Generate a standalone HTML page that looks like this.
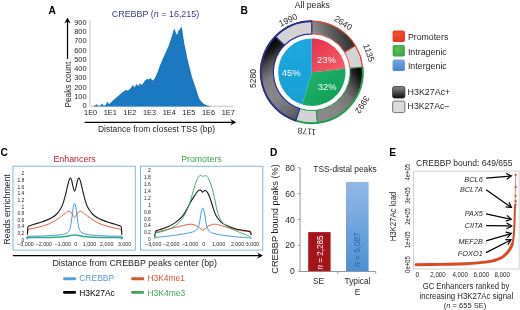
<!DOCTYPE html>
<html><head><meta charset="utf-8"><title>Figure</title>
<style>
html,body{margin:0;padding:0;background:#fff;}
body{width:520px;height:310px;overflow:hidden;}
svg{display:block;font-family:"Liberation Sans", Arial, Helvetica, sans-serif;}
</style></head><body>
<svg width="520" height="310" viewBox="0 0 520 310">
<defs>
<linearGradient id="gDark1" gradientUnits="userSpaceOnUse" x1="310" y1="34" x2="348" y2="22"><stop offset="0" stop-color="#9a9a9a"/><stop offset="0.35" stop-color="#727272"/><stop offset="0.7" stop-color="#4a4a4a"/><stop offset="1" stop-color="#2a2a2a"/></linearGradient>
<linearGradient id="gDark2" gradientUnits="userSpaceOnUse" x1="364" y1="66" x2="307.9" y2="101"><stop offset="0" stop-color="#000"/><stop offset="0.15" stop-color="#141414"/><stop offset="0.3" stop-color="#4c4c4c"/><stop offset="0.45" stop-color="#747474"/><stop offset="0.7" stop-color="#868686"/><stop offset="1" stop-color="#8a8a8a"/></linearGradient>
<linearGradient id="gDark3" gradientUnits="userSpaceOnUse" x1="275" y1="36.3" x2="321.8" y2="98.7"><stop offset="0" stop-color="#000"/><stop offset="0.11" stop-color="#141414"/><stop offset="0.24" stop-color="#505050"/><stop offset="0.4" stop-color="#808084"/><stop offset="0.62" stop-color="#88888c"/><stop offset="0.85" stop-color="#6e6e76"/><stop offset="1" stop-color="#54545e"/></linearGradient>
<linearGradient id="gRed" x1="0" y1="0" x2="1" y2="1"><stop offset="0" stop-color="#e92d4a"/><stop offset="1" stop-color="#f3646a"/></linearGradient>
<linearGradient id="gGreen" x1="0" y1="0" x2="1" y2="1"><stop offset="0" stop-color="#22b573"/><stop offset="1" stop-color="#0c9a4c"/></linearGradient>
<linearGradient id="gBlue" x1="0" y1="0" x2="0" y2="1"><stop offset="0" stop-color="#1ca9dc"/><stop offset="1" stop-color="#17a0d6"/></linearGradient>
<linearGradient id="gBar" x1="0" y1="0" x2="0" y2="1"><stop offset="0" stop-color="#92b9e6"/><stop offset="1" stop-color="#4d8fd3"/></linearGradient>
<linearGradient id="gSwD" x1="0" y1="0" x2="0" y2="1"><stop offset="0" stop-color="#8c8c8c"/><stop offset="1" stop-color="#0c0c0c"/></linearGradient>
<radialGradient id="gSwR" cx="0.4" cy="0.35" r="0.8"><stop offset="0" stop-color="#f4512c"/><stop offset="1" stop-color="#e22f26"/></radialGradient>
<radialGradient id="gSwG" cx="0.45" cy="0.4" r="0.8"><stop offset="0" stop-color="#5cc04f"/><stop offset="1" stop-color="#2f9e3f"/></radialGradient>
<linearGradient id="gSwB" x1="0" y1="0" x2="0" y2="1"><stop offset="0" stop-color="#6ea6e2"/><stop offset="1" stop-color="#4686cf"/></linearGradient>
</defs>
<rect width="520" height="310" fill="#fff"/>

<g id="panelA">
<text x="48.4" y="13.8" font-size="10.2" fill="#000" text-anchor="start" font-weight="bold" font-style="normal">A</text>
<text x="155.5" y="16.5" font-size="9.0" fill="#3d3a8c" text-anchor="middle" font-weight="normal" font-style="normal" textLength="87.5" lengthAdjust="spacingAndGlyphs">CREBBP (<tspan font-style="italic">n</tspan> = 16,215)</text>
<path d="M89.9,20 L89.9,106.2 L233,106.2" fill="none" stroke="#a9abae" stroke-width="0.7"/>
<text x="86.6" y="108.25" font-size="7.4" fill="#231f20" text-anchor="end" font-weight="normal" font-style="normal">0</text>
<text x="86.6" y="98.96000000000001" font-size="7.4" fill="#231f20" text-anchor="end" font-weight="normal" font-style="normal">100</text>
<text x="86.6" y="89.67" font-size="7.4" fill="#231f20" text-anchor="end" font-weight="normal" font-style="normal">200</text>
<text x="86.6" y="80.38" font-size="7.4" fill="#231f20" text-anchor="end" font-weight="normal" font-style="normal">300</text>
<text x="86.6" y="71.09" font-size="7.4" fill="#231f20" text-anchor="end" font-weight="normal" font-style="normal">400</text>
<text x="86.6" y="61.8" font-size="7.4" fill="#231f20" text-anchor="end" font-weight="normal" font-style="normal">500</text>
<text x="86.6" y="52.51" font-size="7.4" fill="#231f20" text-anchor="end" font-weight="normal" font-style="normal">600</text>
<text x="86.6" y="43.21999999999999" font-size="7.4" fill="#231f20" text-anchor="end" font-weight="normal" font-style="normal">700</text>
<text x="86.6" y="33.93" font-size="7.4" fill="#231f20" text-anchor="end" font-weight="normal" font-style="normal">800</text>
<text x="86.6" y="24.640000000000008" font-size="7.4" fill="#231f20" text-anchor="end" font-weight="normal" font-style="normal">900</text>
<text x="90.6" y="115.0" font-size="7.4" fill="#231f20" text-anchor="middle" font-weight="normal" font-style="normal">1E0</text>
<text x="110.25999999999999" y="115.0" font-size="7.4" fill="#231f20" text-anchor="middle" font-weight="normal" font-style="normal">1E1</text>
<text x="129.92" y="115.0" font-size="7.4" fill="#231f20" text-anchor="middle" font-weight="normal" font-style="normal">1E2</text>
<text x="149.57999999999998" y="115.0" font-size="7.4" fill="#231f20" text-anchor="middle" font-weight="normal" font-style="normal">1E3</text>
<text x="169.24" y="115.0" font-size="7.4" fill="#231f20" text-anchor="middle" font-weight="normal" font-style="normal">1E4</text>
<text x="188.89999999999998" y="115.0" font-size="7.4" fill="#231f20" text-anchor="middle" font-weight="normal" font-style="normal">1E5</text>
<text x="208.56" y="115.0" font-size="7.4" fill="#231f20" text-anchor="middle" font-weight="normal" font-style="normal">1E6</text>
<text x="228.22" y="115.0" font-size="7.4" fill="#231f20" text-anchor="middle" font-weight="normal" font-style="normal">1E7</text>
<path d="M94.00,106.00 L96.60,104.30 L98.60,106.00 L100.00,105.80 L102.00,103.50 L104.00,106.00 L105.60,105.00 L107.40,101.80 L109.00,104.00 L110.40,103.00 L113.00,100.40 L117.00,97.00 L121.00,93.60 L124.00,91.00 L126.00,90.00 L128.00,90.40 L130.00,89.00 L133.00,85.00 L134.40,87.40 L136.60,84.00 L138.20,86.00 L140.00,83.20 L141.60,85.00 L143.40,83.00 L145.00,80.60 L147.00,79.00 L148.60,79.60 L150.40,78.00 L152.00,80.00 L153.00,80.60 L155.00,78.00 L157.20,73.10 L159.80,66.00 L162.90,58.50 L166.00,51.80 L168.70,45.70 L171.30,38.00 L173.40,30.80 L174.60,28.80 L175.80,32.80 L177.00,35.00 L178.30,31.00 L180.10,28.80 L181.70,26.80 L182.60,31.90 L184.10,42.60 L185.70,50.30 L187.20,57.90 L188.70,64.00 L190.30,70.20 L191.80,76.30 L193.30,80.90 L194.90,85.50 L196.40,90.10 L197.90,94.70 L199.50,99.30 L201.60,101.80 L204.00,103.90 L207.10,105.40 L210.50,106.20 L210.5,106.4 L94,106.4 Z" fill="#1a79c1"/>
<line x1="84.6" y1="122.3" x2="233" y2="122.3" stroke="#000" stroke-width="1.2"/>
<path d="M236.20,122.30 L230.20,119.10 L232.40,122.30 L230.20,125.50 Z" fill="#000"/>
<text x="156.5" y="131.7" font-size="8.5" fill="#231f20" text-anchor="middle" font-weight="normal" font-style="normal" textLength="117" lengthAdjust="spacingAndGlyphs">Distance from closest TSS (bp)</text>
<line x1="67.5" y1="21" x2="67.5" y2="59" stroke="#000" stroke-width="1.2"/>
<path d="M67.50,17.60 L64.30,23.60 L67.50,21.40 L70.70,23.60 Z" fill="#000"/>
<text x="70.7" y="107.6" font-size="8.9" fill="#231f20" text-anchor="start" font-weight="normal" font-style="normal" transform="rotate(-90 70.7 107.6)" textLength="45.8" lengthAdjust="spacingAndGlyphs">Peaks count</text>
</g>
<g id="panelB">
<text x="240.6" y="13.9" font-size="10.2" fill="#000" text-anchor="start" font-weight="bold" font-style="normal">B</text>
<text x="312.3" y="8.3" font-size="8.7" fill="#231f20" text-anchor="middle" font-weight="normal" font-style="normal" textLength="35.2" lengthAdjust="spacingAndGlyphs">All peaks</text>
<path d="M311.80,21.00 A51.2,51.2 0 0 1 355.59,45.68 L344.65,52.31 A38.4,38.4 0 0 0 311.80,33.80 Z" fill="url(#gDark1)"/>
<path d="M355.59,45.68 A51.2,51.2 0 0 1 362.74,67.03 L350.00,68.32 A38.4,38.4 0 0 0 344.65,52.31 Z" fill="#d3d3d6"/>
<path d="M362.74,67.03 A51.2,51.2 0 0 1 317.60,123.07 L316.15,110.35 A38.4,38.4 0 0 0 350.00,68.32 Z" fill="url(#gDark2)"/>
<path d="M317.60,123.07 A51.2,51.2 0 0 1 295.72,120.81 L299.74,108.66 A38.4,38.4 0 0 0 316.15,110.35 Z" fill="#d3d3d6"/>
<path d="M295.72,120.81 A51.2,51.2 0 0 1 275.16,36.44 L284.32,45.38 A38.4,38.4 0 0 0 299.74,108.66 Z" fill="url(#gDark3)"/>
<path d="M275.16,36.44 A51.2,51.2 0 0 1 311.80,21.00 L311.80,33.80 A38.4,38.4 0 0 0 284.32,45.38 Z" fill="#d3d3d6"/>
<path d="M311.80,21.00 A51.2,51.2 0 0 1 355.59,45.68 L344.65,52.31 A38.4,38.4 0 0 0 311.80,33.80 Z" fill="none" stroke="#e8472b" stroke-width="0.9" stroke-linejoin="miter"/>
<path d="M311.80,21.20 A51.0,51.0 0 0 1 355.42,45.78" fill="none" stroke="#e8472b" stroke-width="1.0"/>
<path d="M355.59,45.68 A51.2,51.2 0 0 1 362.74,67.03 L350.00,68.32 A38.4,38.4 0 0 0 344.65,52.31 Z" fill="none" stroke="#e8472b" stroke-width="0.9" stroke-linejoin="miter"/>
<path d="M355.42,45.78 A51.0,51.0 0 0 1 362.54,67.05" fill="none" stroke="#e8472b" stroke-width="1.0"/>
<path d="M362.74,67.03 A51.2,51.2 0 0 1 317.60,123.07 L316.15,110.35 A38.4,38.4 0 0 0 350.00,68.32 Z" fill="none" stroke="#1fa04c" stroke-width="1.0" stroke-linejoin="miter"/>
<path d="M362.54,67.05 A51.0,51.0 0 0 1 317.57,122.87" fill="none" stroke="#1fa04c" stroke-width="1.9"/>
<path d="M317.60,123.07 A51.2,51.2 0 0 1 295.72,120.81 L299.74,108.66 A38.4,38.4 0 0 0 316.15,110.35 Z" fill="none" stroke="#1fa04c" stroke-width="1.0" stroke-linejoin="miter"/>
<path d="M317.57,122.87 A51.0,51.0 0 0 1 295.79,120.62" fill="none" stroke="#1fa04c" stroke-width="1.9"/>
<path d="M295.72,120.81 A51.2,51.2 0 0 1 275.16,36.44 L284.32,45.38 A38.4,38.4 0 0 0 299.74,108.66 Z" fill="none" stroke="#2b2f86" stroke-width="1.2" stroke-linejoin="miter"/>
<path d="M295.79,120.62 A51.0,51.0 0 0 1 275.30,36.58" fill="none" stroke="#2b2f86" stroke-width="1.9"/>
<path d="M275.16,36.44 A51.2,51.2 0 0 1 311.80,21.00 L311.80,33.80 A38.4,38.4 0 0 0 284.32,45.38 Z" fill="none" stroke="#2b2f86" stroke-width="1.2" stroke-linejoin="miter"/>
<path d="M275.30,36.58 A51.0,51.0 0 0 1 311.80,21.20" fill="none" stroke="#2b2f86" stroke-width="1.9"/>
<path d="M311.8,72.2 L311.80,38.50 A33.7,33.7 0 0 1 345.33,68.79 Z" fill="url(#gRed)"/>
<path d="M311.8,72.2 L345.33,68.79 A33.7,33.7 0 0 1 302.23,104.51 Z" fill="url(#gGreen)"/>
<path d="M311.8,72.2 L302.23,104.51 A33.7,33.7 0 0 1 311.80,38.50 Z" fill="url(#gBlue)"/>
<text x="326.4" y="62.9" font-size="9.4" fill="#fff" text-anchor="middle" font-weight="normal" font-style="normal">23%</text>
<text x="327.2" y="89.6" font-size="9.4" fill="#fff" text-anchor="middle" font-weight="normal" font-style="normal">32%</text>
<text x="291.1" y="75.8" font-size="9.4" fill="#fff" text-anchor="middle" font-weight="normal" font-style="normal">45%</text>
<text x="343.29" y="22.78" font-size="8.6" fill="#231f20" text-anchor="middle" transform="rotate(32.5 343.29 22.78)" dy="3.1">2640</text>
<text x="369.01" y="52.83" font-size="8.6" fill="#231f20" text-anchor="middle" transform="rotate(71.3 369.01 52.83)" dy="3.1">1135</text>
<text x="362.52" y="104.63" font-size="8.6" fill="#231f20" text-anchor="middle" transform="rotate(122.6 362.52 104.63)" dy="3.1">3992</text>
<text x="306.82" y="131.49" font-size="8.6" fill="#231f20" text-anchor="middle" transform="rotate(184.8 306.82 131.49)" dy="3.1">1178</text>
<text x="252.4" y="78.4" font-size="8.6" fill="#231f20" text-anchor="middle" transform="rotate(-90 252.4 78.4)" dy="3.1">5280</text>
<text x="288.00" y="19.97" font-size="8.6" fill="#231f20" text-anchor="middle" transform="rotate(335.5 288.00 19.97)" dy="3.1">1990</text>
<rect x="392.6" y="30.5" width="12.3" height="11.5" rx="1.8" fill="url(#gSwR)" stroke="none" stroke-width="0.7"/>
<text x="407.9" y="39.8" font-size="8.9" fill="#231f20" text-anchor="start" font-weight="normal" font-style="normal" textLength="40.4" lengthAdjust="spacingAndGlyphs">Promoters</text>
<rect x="392.6" y="45.1" width="12.3" height="11.5" rx="1.8" fill="url(#gSwG)" stroke="none" stroke-width="0.7"/>
<text x="407.9" y="54.5" font-size="8.9" fill="#231f20" text-anchor="start" font-weight="normal" font-style="normal" textLength="38.9" lengthAdjust="spacingAndGlyphs">Intragenic</text>
<rect x="392.6" y="59.6" width="12.3" height="11.5" rx="1.8" fill="url(#gSwB)" stroke="none" stroke-width="0.7"/>
<text x="407.9" y="68.9" font-size="8.9" fill="#231f20" text-anchor="start" font-weight="normal" font-style="normal" textLength="38.9" lengthAdjust="spacingAndGlyphs">Intergenic</text>
<rect x="392.6" y="86.6" width="12.3" height="11.5" rx="1.8" fill="url(#gSwD)" stroke="#222" stroke-width="0.7"/>
<text x="407.6" y="94.7" font-size="8.9" fill="#231f20" text-anchor="start" font-weight="normal" font-style="normal" textLength="42.7" lengthAdjust="spacingAndGlyphs">H3K27Ac+</text>
<rect x="392.6" y="101.1" width="12.3" height="11.5" rx="1.8" fill="#dcdcdc" stroke="#444" stroke-width="0.7"/>
<text x="407.6" y="109.2" font-size="8.9" fill="#231f20" text-anchor="start" font-weight="normal" font-style="normal" textLength="41.6" lengthAdjust="spacingAndGlyphs">H3K27Ac–</text>
</g>
<g id="panelC">
<text x="0.5" y="155.8" font-size="10.2" fill="#000" text-anchor="start" font-weight="bold" font-style="normal">C</text>
<text x="74.6" y="162.3" font-size="9.1" fill="#b5202e" text-anchor="middle" font-weight="normal" font-style="normal" textLength="42.3" lengthAdjust="spacingAndGlyphs">Enhancers</text>
<text x="201.4" y="162.3" font-size="9.1" fill="#3aa447" text-anchor="middle" font-weight="normal" font-style="normal" textLength="40.3" lengthAdjust="spacingAndGlyphs">Promoters</text>
<rect x="13.0" y="166.2" width="122.3" height="83.9" fill="#fff" stroke="#72b2dd" stroke-width="0.9"/>
<rect x="140.5" y="166.2" width="122.3" height="83.9" fill="#fff" stroke="#72b2dd" stroke-width="0.9"/>
<text x="10.3" y="244.4" font-size="8.7" fill="#231f20" text-anchor="start" font-weight="normal" font-style="normal" transform="rotate(-90 10.3 244.4)" textLength="70.0" lengthAdjust="spacingAndGlyphs">Reads enrichment</text>
<text x="24.4" y="241.60000000000002" font-size="5.0" fill="#231f20" text-anchor="end" font-weight="normal" font-style="normal">0</text>
<text x="150.9" y="241.20000000000002" font-size="5.0" fill="#231f20" text-anchor="end" font-weight="normal" font-style="normal">0</text>
<text x="24.4" y="234.98000000000002" font-size="5.0" fill="#231f20" text-anchor="end" font-weight="normal" font-style="normal">0.2</text>
<text x="150.9" y="234.3" font-size="5.0" fill="#231f20" text-anchor="end" font-weight="normal" font-style="normal">0.2</text>
<text x="24.4" y="228.36" font-size="5.0" fill="#231f20" text-anchor="end" font-weight="normal" font-style="normal">0.4</text>
<text x="150.9" y="227.4" font-size="5.0" fill="#231f20" text-anchor="end" font-weight="normal" font-style="normal">0.4</text>
<text x="24.4" y="221.74" font-size="5.0" fill="#231f20" text-anchor="end" font-weight="normal" font-style="normal">0.6</text>
<text x="150.9" y="220.5" font-size="5.0" fill="#231f20" text-anchor="end" font-weight="normal" font-style="normal">0.6</text>
<text x="24.4" y="215.12000000000003" font-size="5.0" fill="#231f20" text-anchor="end" font-weight="normal" font-style="normal">0.8</text>
<text x="150.9" y="213.60000000000002" font-size="5.0" fill="#231f20" text-anchor="end" font-weight="normal" font-style="normal">0.8</text>
<text x="24.4" y="208.50000000000003" font-size="5.0" fill="#231f20" text-anchor="end" font-weight="normal" font-style="normal">1</text>
<text x="150.9" y="206.70000000000002" font-size="5.0" fill="#231f20" text-anchor="end" font-weight="normal" font-style="normal">1</text>
<text x="24.4" y="201.88000000000002" font-size="5.0" fill="#231f20" text-anchor="end" font-weight="normal" font-style="normal">1.2</text>
<text x="150.9" y="199.8" font-size="5.0" fill="#231f20" text-anchor="end" font-weight="normal" font-style="normal">1.2</text>
<text x="24.4" y="195.26000000000002" font-size="5.0" fill="#231f20" text-anchor="end" font-weight="normal" font-style="normal">1.4</text>
<text x="150.9" y="192.9" font-size="5.0" fill="#231f20" text-anchor="end" font-weight="normal" font-style="normal">1.4</text>
<text x="24.4" y="188.64000000000001" font-size="5.0" fill="#231f20" text-anchor="end" font-weight="normal" font-style="normal">1.6</text>
<text x="150.9" y="186.0" font-size="5.0" fill="#231f20" text-anchor="end" font-weight="normal" font-style="normal">1.6</text>
<text x="24.4" y="182.02000000000004" font-size="5.0" fill="#231f20" text-anchor="end" font-weight="normal" font-style="normal">1.8</text>
<text x="150.9" y="179.10000000000002" font-size="5.0" fill="#231f20" text-anchor="end" font-weight="normal" font-style="normal">1.8</text>
<text x="24.4" y="175.40000000000003" font-size="5.0" fill="#231f20" text-anchor="end" font-weight="normal" font-style="normal">2</text>
<text x="150.9" y="172.20000000000002" font-size="5.0" fill="#231f20" text-anchor="end" font-weight="normal" font-style="normal">2</text>
<text x="25.5" y="246.1" font-size="5.3" fill="#231f20" text-anchor="middle" font-weight="normal" font-style="normal">–3,000</text>
<text x="43.9" y="246.1" font-size="5.3" fill="#231f20" text-anchor="middle" font-weight="normal" font-style="normal">–2,000</text>
<text x="62.9" y="246.1" font-size="5.3" fill="#231f20" text-anchor="middle" font-weight="normal" font-style="normal">–1,000</text>
<text x="75.7" y="246.1" font-size="5.3" fill="#231f20" text-anchor="middle" font-weight="normal" font-style="normal">0</text>
<text x="89.5" y="246.1" font-size="5.3" fill="#231f20" text-anchor="middle" font-weight="normal" font-style="normal">1,000</text>
<text x="106.75" y="246.1" font-size="5.3" fill="#231f20" text-anchor="middle" font-weight="normal" font-style="normal">2,000</text>
<text x="124.6" y="246.1" font-size="5.3" fill="#231f20" text-anchor="middle" font-weight="normal" font-style="normal">3,000</text>
<text x="153.3" y="246.1" font-size="5.3" fill="#231f20" text-anchor="middle" font-weight="normal" font-style="normal">–3,000</text>
<text x="171.3" y="246.1" font-size="5.3" fill="#231f20" text-anchor="middle" font-weight="normal" font-style="normal">–2,000</text>
<text x="190" y="246.1" font-size="5.3" fill="#231f20" text-anchor="middle" font-weight="normal" font-style="normal">–1,000</text>
<text x="203.75" y="246.1" font-size="5.3" fill="#231f20" text-anchor="middle" font-weight="normal" font-style="normal">0</text>
<text x="218.6" y="246.1" font-size="5.3" fill="#231f20" text-anchor="middle" font-weight="normal" font-style="normal">1,000</text>
<text x="237.6" y="246.1" font-size="5.3" fill="#231f20" text-anchor="middle" font-weight="normal" font-style="normal">2,000</text>
<text x="252.4" y="246.1" font-size="5.3" fill="#231f20" text-anchor="middle" font-weight="normal" font-style="normal">3,000</text>
<path d="M27.40,238.60 C27.47,238.45 25.70,237.87 27.80,237.70 C29.90,237.53 35.47,237.67 40.00,237.60 C44.53,237.53 50.83,237.47 55.00,237.30 C59.17,237.13 62.50,236.88 65.00,236.60 C67.50,236.32 68.40,235.85 70.00,235.60 C71.60,235.35 73.07,235.10 74.60,235.10 C76.13,235.10 77.60,235.35 79.20,235.60 C80.80,235.85 81.70,236.32 84.20,236.60 C86.70,236.88 90.03,237.13 94.20,237.30 C98.37,237.47 104.67,237.53 109.20,237.60 C113.73,237.67 119.30,237.53 121.40,237.70 C123.50,237.87 121.73,238.45 121.80,238.60" fill="none" stroke="#35a888" stroke-width="1.5" stroke-linejoin="round" stroke-linecap="round"/>
<path d="M27.40,234.70 L28.00,229.80 C29.13,228.72 31.82,228.82 34.20,228.20 C36.58,227.58 39.62,226.90 42.30,226.10 C44.98,225.30 47.62,224.67 50.30,223.40 C52.98,222.13 55.98,220.12 58.40,218.50 C60.82,216.88 63.32,214.80 64.80,213.70 C66.28,212.60 66.62,212.30 67.30,211.90 C67.98,211.50 68.35,211.30 68.90,211.30 C69.45,211.30 70.03,211.42 70.60,211.90 C71.17,212.38 71.63,213.23 72.30,214.20 C72.97,215.17 73.83,217.70 74.60,217.70 C75.37,217.70 76.23,215.17 76.90,214.20 C77.57,213.23 78.03,212.38 78.60,211.90 C79.17,211.42 79.75,211.30 80.30,211.30 C80.85,211.30 81.22,211.50 81.90,211.90 C82.58,212.30 82.92,212.60 84.40,213.70 C85.88,214.80 88.38,216.88 90.80,218.50 C93.22,220.12 96.22,222.13 98.90,223.40 C101.58,224.67 104.22,225.30 106.90,226.10 C109.58,226.90 112.62,227.58 115.00,228.20 C117.38,228.82 120.07,228.72 121.20,229.80 L121.80,234.70" fill="none" stroke="#e0603f" stroke-width="1.0" stroke-linejoin="round" stroke-linecap="round"/>
<path d="M27.40,238.00 C27.48,237.72 25.80,236.62 27.90,236.30 C30.00,235.98 36.27,236.22 40.00,236.10 C43.73,235.98 46.97,235.82 50.30,235.60 C53.63,235.38 57.47,235.13 60.00,234.80 C62.53,234.47 64.12,234.07 65.50,233.60 C66.88,233.13 67.52,232.90 68.30,232.00 C69.08,231.10 69.65,230.20 70.20,228.20 C70.75,226.20 71.17,222.95 71.60,220.00 C72.03,217.05 72.43,213.00 72.80,210.50 C73.17,208.00 73.50,206.20 73.80,205.00 C74.10,203.80 74.33,203.30 74.60,203.30 C74.87,203.30 75.10,203.80 75.40,205.00 C75.70,206.20 76.03,208.00 76.40,210.50 C76.77,213.00 77.17,217.05 77.60,220.00 C78.03,222.95 78.45,226.20 79.00,228.20 C79.55,230.20 80.12,231.10 80.90,232.00 C81.68,232.90 82.32,233.13 83.70,233.60 C85.08,234.07 86.67,234.47 89.20,234.80 C91.73,235.13 95.57,235.38 98.90,235.60 C102.23,235.82 105.47,235.98 109.20,236.10 C112.93,236.22 119.20,235.98 121.30,236.30 C123.40,236.62 121.72,237.72 121.80,238.00" fill="none" stroke="#3d9dd8" stroke-width="1.0" stroke-linejoin="round" stroke-linecap="round"/>
<path d="M27.40,233.90 L27.80,227.40 C28.13,226.05 28.33,226.33 29.40,225.80 C30.47,225.27 32.05,224.87 34.20,224.20 C36.35,223.53 39.62,222.73 42.30,221.80 C44.98,220.87 47.88,219.90 50.30,218.60 C52.72,217.30 54.92,215.93 56.80,214.00 C58.68,212.07 60.40,209.28 61.60,207.00 C62.80,204.72 63.30,202.55 64.00,200.30 C64.70,198.05 65.25,195.68 65.80,193.50 C66.35,191.32 66.80,189.25 67.30,187.20 C67.80,185.15 68.32,182.72 68.80,181.20 C69.28,179.68 69.73,178.27 70.20,178.10 C70.67,177.93 71.15,178.85 71.60,180.20 C72.05,181.55 72.40,184.35 72.90,186.20 C73.40,188.05 74.03,191.30 74.60,191.30 C75.17,191.30 75.80,188.05 76.30,186.20 C76.80,184.35 77.15,181.55 77.60,180.20 C78.05,178.85 78.53,177.93 79.00,178.10 C79.47,178.27 79.92,179.68 80.40,181.20 C80.88,182.72 81.40,185.15 81.90,187.20 C82.40,189.25 82.85,191.32 83.40,193.50 C83.95,195.68 84.50,198.05 85.20,200.30 C85.90,202.55 86.40,204.72 87.60,207.00 C88.80,209.28 90.52,212.07 92.40,214.00 C94.28,215.93 96.48,217.30 98.90,218.60 C101.32,219.90 104.22,220.87 106.90,221.80 C109.58,222.73 112.85,223.53 115.00,224.20 C117.15,224.87 118.73,225.27 119.80,225.80 C120.87,226.33 121.07,226.05 121.40,227.40 L121.80,233.90" fill="none" stroke="#1a1a1a" stroke-width="1.1" stroke-linejoin="round" stroke-linecap="round"/>
<path d="M154.70,235.50 L155.60,232.30 C156.35,231.63 157.25,231.97 159.20,231.50 C161.15,231.03 164.62,230.18 167.30,229.50 C169.98,228.82 172.62,228.07 175.30,227.40 C177.98,226.73 180.98,226.03 183.40,225.50 C185.82,224.97 188.05,224.33 189.80,224.20 C191.55,224.07 192.55,224.30 193.90,224.70 C195.25,225.10 196.70,225.88 197.90,226.60 C199.10,227.32 200.27,228.40 201.10,229.00 C201.93,229.60 202.22,230.25 202.90,230.20 C203.58,230.15 204.28,229.38 205.20,228.70 C206.12,228.02 207.35,226.77 208.40,226.10 C209.45,225.43 210.50,225.02 211.50,224.70 C212.50,224.38 213.12,224.15 214.40,224.20 C215.68,224.25 217.05,224.47 219.20,225.00 C221.35,225.53 224.62,226.65 227.30,227.40 C229.98,228.15 232.62,228.90 235.30,229.50 C237.98,230.10 240.98,230.60 243.40,231.00 C245.82,231.40 248.52,231.37 249.80,231.90 L251.10,234.20" fill="none" stroke="#e0603f" stroke-width="1.0" stroke-linejoin="round" stroke-linecap="round"/>
<path d="M154.70,238.70 C154.92,238.48 153.90,237.80 156.00,237.40 C158.10,237.00 164.08,236.67 167.30,236.30 C170.52,235.93 172.62,235.60 175.30,235.20 C177.98,234.80 180.70,234.38 183.40,233.90 C186.10,233.42 189.48,232.85 191.50,232.30 C193.52,231.75 194.43,231.28 195.50,230.60 C196.57,229.92 197.23,229.53 197.90,228.20 C198.57,226.87 198.98,225.05 199.50,222.60 C200.02,220.15 200.58,215.72 201.00,213.50 C201.42,211.28 201.70,210.22 202.00,209.30 C202.30,208.38 202.53,208.00 202.80,208.00 C203.07,208.00 203.28,208.30 203.60,209.30 C203.92,210.30 204.30,211.78 204.70,214.00 C205.10,216.22 205.55,220.20 206.00,222.60 C206.45,225.00 206.80,226.93 207.40,228.40 C208.00,229.87 208.72,230.62 209.60,231.40 C210.48,232.18 211.10,232.55 212.70,233.10 C214.30,233.65 216.77,234.25 219.20,234.70 C221.63,235.15 224.62,235.45 227.30,235.80 C229.98,236.15 232.62,236.53 235.30,236.80 C237.98,237.07 240.87,237.20 243.40,237.40 C245.93,237.60 249.22,237.80 250.50,238.00 C251.78,238.20 251.00,238.50 251.10,238.60" fill="none" stroke="#3d9dd8" stroke-width="1.0" stroke-linejoin="round" stroke-linecap="round"/>
<path d="M154.70,236.30 L155.80,231.00 C156.55,229.92 157.28,230.45 159.20,229.80 C161.12,229.15 164.62,228.30 167.30,227.10 C169.98,225.90 172.88,224.30 175.30,222.60 C177.72,220.90 179.92,219.05 181.80,216.90 C183.68,214.75 185.13,212.18 186.60,209.70 C188.07,207.22 189.25,204.35 190.60,202.00 C191.95,199.65 193.62,197.27 194.70,195.60 C195.78,193.93 196.30,192.95 197.10,192.00 C197.90,191.05 198.82,190.13 199.50,189.90 C200.18,189.67 200.68,190.22 201.20,190.60 C201.72,190.98 202.13,192.15 202.60,192.20 C203.07,192.25 203.53,191.20 204.00,190.90 C204.47,190.60 204.80,190.12 205.40,190.40 C206.00,190.68 206.83,191.33 207.60,192.60 C208.37,193.87 209.15,195.68 210.00,198.00 C210.85,200.32 211.70,203.58 212.70,206.50 C213.70,209.42 214.65,212.95 216.00,215.50 C217.35,218.05 218.92,220.08 220.80,221.80 C222.68,223.52 224.88,224.65 227.30,225.80 C229.72,226.95 232.62,227.95 235.30,228.70 C237.98,229.45 241.12,229.90 243.40,230.30 C245.68,230.70 247.80,230.77 249.00,231.10 C250.20,231.43 250.25,231.70 250.60,232.30 C250.95,232.90 251.02,234.30 251.10,234.70" fill="none" stroke="#1a1a1a" stroke-width="1.1" stroke-linejoin="round" stroke-linecap="round"/>
<path d="M154.70,237.90 L155.60,233.10 C156.35,232.17 157.25,232.85 159.20,232.30 C161.15,231.75 164.62,230.88 167.30,229.80 C169.98,228.72 172.88,227.53 175.30,225.80 C177.72,224.07 179.92,221.82 181.80,219.40 C183.68,216.98 185.27,214.03 186.60,211.30 C187.93,208.57 188.85,205.80 189.80,203.00 C190.75,200.20 191.48,197.30 192.30,194.50 C193.12,191.70 193.90,188.68 194.70,186.20 C195.50,183.72 196.42,181.20 197.10,179.60 C197.78,178.00 198.25,177.32 198.80,176.60 C199.35,175.88 199.87,175.40 200.40,175.30 C200.93,175.20 201.55,175.80 202.00,176.00 C202.45,176.20 202.73,176.50 203.10,176.50 C203.47,176.50 203.78,176.17 204.20,176.00 C204.62,175.83 205.10,175.40 205.60,175.50 C206.10,175.60 206.70,176.05 207.20,176.60 C207.70,177.15 208.00,177.53 208.60,178.80 C209.20,180.07 210.02,181.92 210.80,184.20 C211.58,186.48 212.52,189.37 213.30,192.50 C214.08,195.63 214.78,199.67 215.50,203.00 C216.22,206.33 216.58,209.47 217.60,212.50 C218.62,215.53 219.98,218.85 221.60,221.20 C223.22,223.55 225.02,225.03 227.30,226.60 C229.58,228.17 232.62,229.38 235.30,230.60 C237.98,231.82 240.98,232.95 243.40,233.90 C245.82,234.85 248.52,235.68 249.80,236.30 C251.08,236.92 250.88,237.38 251.10,237.60" fill="none" stroke="#3fae6a" stroke-width="1.0" stroke-linejoin="round" stroke-linecap="round"/>
<line x1="12.9" y1="255.6" x2="259" y2="255.6" stroke="#000" stroke-width="1.25"/>
<path d="M263.00,255.60 L257.00,252.40 L259.20,255.60 L257.00,258.80 Z" fill="#000"/>
<text x="134.7" y="265.7" font-size="8.8" fill="#231f20" text-anchor="middle" font-weight="normal" font-style="normal" textLength="164.6" lengthAdjust="spacingAndGlyphs">Distance from CREBBP peaks center (bp)</text>
<rect x="63.1" y="277.3" width="12.9" height="2.9" rx="1.2" fill="#5a9fd6"/>
<text x="79.2" y="281.4" font-size="8.4" fill="#5b9bd5" text-anchor="start" font-weight="normal" font-style="normal" textLength="35" lengthAdjust="spacingAndGlyphs">CREBBP</text>
<rect x="131.2" y="277.3" width="12.9" height="2.9" rx="1.2" fill="#d9552f"/>
<text x="147.4" y="281.4" font-size="8.4" fill="#d9552f" text-anchor="start" font-weight="normal" font-style="normal" textLength="37.6" lengthAdjust="spacingAndGlyphs">H3K4me1</text>
<rect x="63.1" y="290.9" width="12.9" height="2.9" rx="1.2" fill="#000"/>
<text x="79.2" y="295.6" font-size="8.4" fill="#000" text-anchor="start" font-weight="normal" font-style="normal" textLength="35.6" lengthAdjust="spacingAndGlyphs">H3K27Ac</text>
<rect x="131.2" y="290.9" width="12.9" height="2.9" rx="1.2" fill="#3fa659"/>
<text x="147.4" y="295.6" font-size="8.4" fill="#43a85a" text-anchor="start" font-weight="normal" font-style="normal" textLength="37.9" lengthAdjust="spacingAndGlyphs">H3K4me3</text>
</g>
<g id="panelD">
<text x="270.1" y="155.6" font-size="10.2" fill="#000" text-anchor="start" font-weight="bold" font-style="normal">D</text>
<path d="M300.1,167.5 L300.1,271.5 L375.7,271.5" fill="none" stroke="#6d6e71" stroke-width="0.7"/>
<path d="M337.8,271.5 v2.4 M375.7,271.5 v2.4" fill="none" stroke="#6d6e71" stroke-width="0.7"/>
<line x1="297.9" y1="271.20" x2="300.1" y2="271.20" stroke="#6d6e71" stroke-width="0.7"/>
<text x="294.8" y="274.3" font-size="8.6" fill="#231f20" text-anchor="end" font-weight="normal" font-style="normal">0</text>
<line x1="297.9" y1="245.35" x2="300.1" y2="245.35" stroke="#6d6e71" stroke-width="0.7"/>
<text x="294.8" y="248.45" font-size="8.6" fill="#231f20" text-anchor="end" font-weight="normal" font-style="normal">20</text>
<line x1="297.9" y1="219.50" x2="300.1" y2="219.50" stroke="#6d6e71" stroke-width="0.7"/>
<text x="294.8" y="222.6" font-size="8.6" fill="#231f20" text-anchor="end" font-weight="normal" font-style="normal">40</text>
<line x1="297.9" y1="193.65" x2="300.1" y2="193.65" stroke="#6d6e71" stroke-width="0.7"/>
<text x="294.8" y="196.74999999999997" font-size="8.6" fill="#231f20" text-anchor="end" font-weight="normal" font-style="normal">60</text>
<line x1="297.9" y1="167.80" x2="300.1" y2="167.80" stroke="#6d6e71" stroke-width="0.7"/>
<text x="294.8" y="170.89999999999998" font-size="8.6" fill="#231f20" text-anchor="end" font-weight="normal" font-style="normal">80</text>
<rect x="308.2" y="232.1" width="22.4" height="39.1" fill="#a5161a"/>
<rect x="346.0" y="181.9" width="22.6" height="89.3" fill="url(#gBar)"/>
<text x="322.9" y="269.6" font-size="8.2" fill="#fff" text-anchor="start" font-weight="normal" font-style="normal" transform="rotate(-90 322.9 269.6)" textLength="34.0" lengthAdjust="spacingAndGlyphs"><tspan font-style="italic">n</tspan> = 2,285</text>
<text x="360.0" y="266.7" font-size="8.2" fill="#2766b4" text-anchor="start" font-weight="normal" font-style="normal" transform="rotate(-90 360.0 266.7)" textLength="34.3" lengthAdjust="spacingAndGlyphs"><tspan font-style="italic">n</tspan> = 5,087</text>
<text x="345.0" y="171.6" font-size="8.4" fill="#231f20" text-anchor="middle" font-weight="normal" font-style="normal" textLength="63.3" lengthAdjust="spacingAndGlyphs">TSS-distal peaks</text>
<text x="318.5" y="284.0" font-size="8.4" fill="#231f20" text-anchor="middle" font-weight="normal" font-style="normal">SE</text>
<text x="357.5" y="283.6" font-size="8.3" fill="#231f20" text-anchor="middle" font-weight="normal" font-style="normal" textLength="26.0" lengthAdjust="spacingAndGlyphs">Typical</text>
<text x="357.4" y="294.5" font-size="8.3" fill="#231f20" text-anchor="middle" font-weight="normal" font-style="normal">E</text>
<text x="277.9" y="273.7" font-size="9.0" fill="#231f20" text-anchor="start" font-weight="normal" font-style="normal" transform="rotate(-90 277.9 273.7)" textLength="109.4" lengthAdjust="spacingAndGlyphs">CREBBP bound peaks (%)</text>
</g>
<g id="panelE">
<text x="389.2" y="155.9" font-size="10.2" fill="#000" text-anchor="start" font-weight="bold" font-style="normal">E</text>
<text x="464.3" y="166.4" font-size="8.5" fill="#231f20" text-anchor="middle" font-weight="normal" font-style="normal" textLength="96.5" lengthAdjust="spacingAndGlyphs">CREBBP bound: 649/655</text>
<rect x="413.7" y="171.1" width="105.4" height="97.9" fill="none" stroke="#b4b6b8" stroke-width="0.6"/>
<text x="409.8" y="264.6" font-size="7.0" fill="#231f20" text-anchor="middle" font-weight="normal" font-style="normal" transform="rotate(-90 409.8 264.6)" textLength="16.6" lengthAdjust="spacingAndGlyphs">0e+05</text>
<text x="409.8" y="239.8" font-size="7.0" fill="#231f20" text-anchor="middle" font-weight="normal" font-style="normal" transform="rotate(-90 409.8 239.8)" textLength="16.6" lengthAdjust="spacingAndGlyphs">1e+05</text>
<text x="409.8" y="216.5" font-size="7.0" fill="#231f20" text-anchor="middle" font-weight="normal" font-style="normal" transform="rotate(-90 409.8 216.5)" textLength="16.6" lengthAdjust="spacingAndGlyphs">2e+05</text>
<text x="409.8" y="195.4" font-size="7.0" fill="#231f20" text-anchor="middle" font-weight="normal" font-style="normal" transform="rotate(-90 409.8 195.4)" textLength="16.6" lengthAdjust="spacingAndGlyphs">3e+05</text>
<text x="409.8" y="172.3" font-size="7.0" fill="#231f20" text-anchor="middle" font-weight="normal" font-style="normal" transform="rotate(-90 409.8 172.3)" textLength="16.6" lengthAdjust="spacingAndGlyphs">4e+05</text>
<text x="417.5" y="277.3" font-size="6.9" fill="#231f20" text-anchor="middle" font-weight="normal" font-style="normal">0</text>
<text x="438" y="277.3" font-size="6.9" fill="#231f20" text-anchor="middle" font-weight="normal" font-style="normal" textLength="15.6" lengthAdjust="spacingAndGlyphs">2,000</text>
<text x="460.2" y="277.3" font-size="6.9" fill="#231f20" text-anchor="middle" font-weight="normal" font-style="normal" textLength="15.6" lengthAdjust="spacingAndGlyphs">4,000</text>
<text x="481.4" y="277.3" font-size="6.9" fill="#231f20" text-anchor="middle" font-weight="normal" font-style="normal" textLength="15.6" lengthAdjust="spacingAndGlyphs">6,000</text>
<text x="502.2" y="277.3" font-size="6.9" fill="#231f20" text-anchor="middle" font-weight="normal" font-style="normal" textLength="15.6" lengthAdjust="spacingAndGlyphs">8,000</text>
<text x="396.5" y="241.3" font-size="9.3" fill="#231f20" text-anchor="start" font-weight="normal" font-style="normal" transform="rotate(-90 396.5 241.3)" textLength="49.6" lengthAdjust="spacingAndGlyphs">H3K27Ac load</text>
<path d="M510.00,249.00 C510.40,248.13 511.78,245.97 512.40,243.80 C513.02,241.63 513.37,239.13 513.70,236.00 C514.03,232.87 514.22,229.00 514.40,225.00 C514.58,221.00 514.70,215.17 514.80,212.00 C514.90,208.83 514.97,207.00 515.00,206.00" fill="none" stroke="#e0461f" stroke-width="2.0" stroke-linejoin="round" stroke-linecap="round"/>
<path d="M416.00,264.70 C420.00,264.65 431.77,264.57 440.00,264.40 C448.23,264.23 459.07,263.95 465.40,263.70 C471.73,263.45 473.80,263.28 478.00,262.90 C482.20,262.52 487.25,262.02 490.60,261.40 C493.95,260.78 496.02,260.00 498.10,259.20 C500.18,258.40 501.58,257.67 503.10,256.60 C504.62,255.53 506.05,254.07 507.20,252.80 C508.35,251.53 509.13,250.50 510.00,249.00 C510.87,247.50 512.00,244.67 512.40,243.80" fill="none" stroke="#e0461f" stroke-width="2.9" stroke-linejoin="round" stroke-linecap="round"/>
<line x1="515.1" y1="206" x2="515.7" y2="175" stroke="#e8694a" stroke-width="0.8"/>
<circle cx="515.6" cy="174.8" r="1.15" fill="#e0461f"/>
<circle cx="515.6" cy="187.2" r="1.15" fill="#e0461f"/>
<circle cx="515.6" cy="195.8" r="1.15" fill="#e0461f"/>
<circle cx="515.6" cy="201.2" r="1.15" fill="#e0461f"/>
<circle cx="515.6" cy="204.6" r="1.15" fill="#e0461f"/>
<text x="482.8" y="181.7" font-size="7.5" fill="#231f20" text-anchor="end" font-weight="normal" font-style="italic" textLength="18.6" lengthAdjust="spacingAndGlyphs">BCL6</text>
<line x1="486.1" y1="178.2" x2="510.80" y2="175.95" stroke="#000" stroke-width="1.25"/>
<path d="M506.68,179.24 L511.40,175.90 L506.16,173.46" fill="none" stroke="#000" stroke-width="1.25" stroke-linejoin="miter"/>
<text x="482.8" y="192.4" font-size="7.5" fill="#231f20" text-anchor="end" font-weight="normal" font-style="italic" textLength="22.8" lengthAdjust="spacingAndGlyphs">BCL7A</text>
<line x1="486.1" y1="189.7" x2="510.91" y2="207.06" stroke="#000" stroke-width="1.25"/>
<path d="M505.64,206.91 L511.40,207.40 L508.97,202.16" fill="none" stroke="#000" stroke-width="1.25" stroke-linejoin="miter"/>
<text x="482.8" y="215.7" font-size="7.5" fill="#231f20" text-anchor="end" font-weight="normal" font-style="italic" textLength="18.0" lengthAdjust="spacingAndGlyphs">PAX5</text>
<line x1="486.1" y1="213.8" x2="510.71" y2="219.17" stroke="#000" stroke-width="1.25"/>
<path d="M505.80,221.07 L511.30,219.30 L507.03,215.40" fill="none" stroke="#000" stroke-width="1.25" stroke-linejoin="miter"/>
<text x="482.8" y="227.9" font-size="7.5" fill="#231f20" text-anchor="end" font-weight="normal" font-style="italic" textLength="18.0" lengthAdjust="spacingAndGlyphs">CIITA</text>
<line x1="486.1" y1="225.6" x2="511.00" y2="225.99" stroke="#000" stroke-width="1.25"/>
<path d="M506.56,228.82 L511.60,226.00 L506.65,223.02" fill="none" stroke="#000" stroke-width="1.25" stroke-linejoin="miter"/>
<text x="482.8" y="243.8" font-size="7.5" fill="#231f20" text-anchor="end" font-weight="normal" font-style="italic" textLength="24.4" lengthAdjust="spacingAndGlyphs">MEF2B</text>
<line x1="486.1" y1="240.9" x2="510.72" y2="233.57" stroke="#000" stroke-width="1.25"/>
<path d="M507.33,237.61 L511.30,233.40 L505.68,232.05" fill="none" stroke="#000" stroke-width="1.25" stroke-linejoin="miter"/>
<text x="482.8" y="255.8" font-size="7.5" fill="#231f20" text-anchor="end" font-weight="normal" font-style="italic" textLength="25.0" lengthAdjust="spacingAndGlyphs">FOXO1</text>
<line x1="486.1" y1="252.6" x2="510.47" y2="240.17" stroke="#000" stroke-width="1.25"/>
<path d="M507.86,244.76 L511.00,239.90 L505.23,239.59" fill="none" stroke="#000" stroke-width="1.25" stroke-linejoin="miter"/>
<text x="466" y="289.2" font-size="8.4" fill="#231f20" text-anchor="middle" font-weight="normal" font-style="normal" textLength="86.7" lengthAdjust="spacingAndGlyphs">GC Enhancers ranked by</text>
<text x="466.3" y="298.7" font-size="8.4" fill="#231f20" text-anchor="middle" font-weight="normal" font-style="normal" textLength="93.7" lengthAdjust="spacingAndGlyphs">increasing H3K27Ac signal</text>
<text x="465" y="307.6" font-size="8.0" fill="#231f20" text-anchor="middle" font-weight="normal" font-style="normal" textLength="42.4" lengthAdjust="spacingAndGlyphs">(<tspan font-style="italic">n</tspan> = 655 SE)</text>
</g>
</svg></body></html>
